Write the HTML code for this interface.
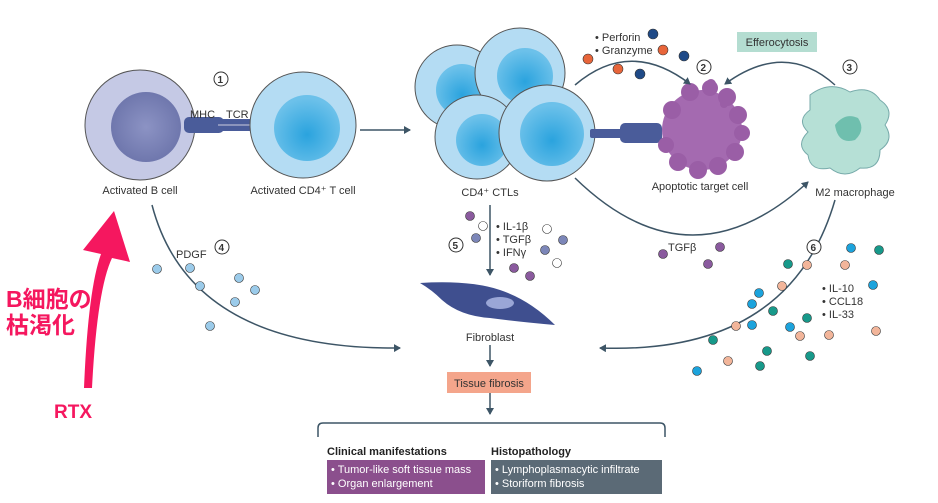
<!DOCTYPE html>
<html><head><meta charset="utf-8"><style>
body{margin:0;background:#fff;width:938px;height:498px;overflow:hidden}
svg text{font-family:"Liberation Sans",sans-serif;fill:#333}
</style></head><body>
<svg width="938" height="498" viewBox="0 0 938 498" xmlns="http://www.w3.org/2000/svg">
<defs>
<marker id="a" markerWidth="8" markerHeight="8" refX="6" refY="4" orient="auto" markerUnits="userSpaceOnUse"><path d="M0,0 L7,4 L0,8 z" fill="#3d5566"/></marker>
<radialGradient id="bc" cx="50%" cy="50%" r="50%"><stop offset="0" stop-color="#8c93c4"/><stop offset="1" stop-color="#6f77ad"/></radialGradient>
<radialGradient id="tc" cx="50%" cy="60%" r="55%"><stop offset="0" stop-color="#2aa3de"/><stop offset="1" stop-color="#6cc1ea"/></radialGradient>
</defs>
<!-- B cell -->
<circle cx="140" cy="125" r="55" fill="#c5c9e5" stroke="#555" stroke-width="1"/>
<circle cx="146" cy="127" r="35" fill="url(#bc)"/>
<!-- MHC-TCR -->
<rect x="184" y="117" width="40" height="16" rx="5" fill="#4a5c9a"/>
<rect x="215" y="119" width="40" height="12" rx="3" fill="#4a5c9a"/>
<line x1="218" y1="125" x2="258" y2="125" stroke="#ccd" stroke-width="1"/>
<text x="190" y="118" font-size="11">MHC</text><text x="226" y="118" font-size="11">TCR</text>
<circle cx="221" cy="79" r="7" fill="#fff" stroke="#333"/><text x="217.5" y="83" font-size="10" font-weight="bold">1</text>
<!-- T cell -->
<circle cx="303" cy="125" r="53" fill="#b4dcf3" stroke="#555"/>
<circle cx="307" cy="128" r="33" fill="url(#tc)"/>
<text x="140" y="194" font-size="11" text-anchor="middle">Activated B cell</text>
<text x="303" y="194" font-size="11" text-anchor="middle">Activated CD4⁺ T cell</text>
<line x1="360" y1="130" x2="410" y2="130" stroke="#3d5566" stroke-width="1.5" marker-end="url(#a)"/>
<!-- CTLs -->
<g stroke="#555" stroke-width="1">
<circle cx="457" cy="87" r="42" fill="#b4dcf3"/><circle cx="462" cy="90" r="26" fill="url(#tc)" stroke="none"/>
<circle cx="520" cy="73" r="45" fill="#b4dcf3"/><circle cx="525" cy="76" r="28" fill="url(#tc)" stroke="none"/>
<circle cx="477" cy="137" r="42" fill="#b4dcf3"/><circle cx="482" cy="140" r="26" fill="url(#tc)" stroke="none"/>
<circle cx="547" cy="133" r="48" fill="#b4dcf3"/><circle cx="552" cy="134" r="32" fill="url(#tc)" stroke="none"/>
</g>
<rect x="590" y="129" width="40" height="9" rx="2" fill="#4a5c9a"/>
<rect x="620" y="123" width="42" height="20" rx="5" fill="#4a5c9a"/>
<text x="490" y="196" font-size="11" text-anchor="middle">CD4⁺ CTLs</text>
<!-- apoptotic -->
<g fill="#9a5ea6">
<circle cx="702" cy="130" r="40" fill="#a46ab0"/>
<circle cx="672" cy="110" r="9"/><circle cx="690" cy="92" r="9"/><circle cx="710" cy="88" r="8"/><circle cx="727" cy="97" r="9"/><circle cx="738" cy="115" r="9"/><circle cx="742" cy="133" r="8"/><circle cx="735" cy="152" r="9"/><circle cx="718" cy="166" r="9"/><circle cx="698" cy="170" r="9"/><circle cx="678" cy="162" r="9"/><circle cx="666" cy="145" r="8"/><circle cx="711" cy="84" r="5"/><circle cx="724" cy="104" r="4"/>
</g>
<text x="700" y="190" font-size="11" text-anchor="middle">Apoptotic target cell</text>
<circle cx="704" cy="67" r="7" fill="#fff" stroke="#333"/><text x="700.5" y="71" font-size="10" font-weight="bold">2</text>
<!-- macrophage -->
<path d="M810,95 Q830,80 850,92 Q870,85 880,100 Q895,110 885,125 Q895,140 880,150 Q880,170 860,168 Q845,180 830,168 Q810,172 808,155 Q795,145 808,132 Q796,120 810,110 Z" fill="#b6e0d6" stroke="#7aa" stroke-width="1"/>
<path d="M835,125 Q845,112 858,118 Q866,130 855,140 Q838,145 835,125Z" fill="#6fbfae"/>
<text x="855" y="196" font-size="11" text-anchor="middle">M2 macrophage</text>
<circle cx="850" cy="67" r="7" fill="#fff" stroke="#333"/><text x="846.5" y="71" font-size="10" font-weight="bold">3</text>
<rect x="737" y="32" width="80" height="20" fill="#b4ddd1"/><text x="777" y="46" font-size="11" text-anchor="middle">Efferocytosis</text>
<!-- arcs -->
<g fill="none" stroke="#3d5566" stroke-width="1.5">
<path d="M575,85 Q630,38 690,84" marker-end="url(#a)"/>
<path d="M835,85 Q785,40 725,84" marker-end="url(#a)"/>
<path d="M575,178 Q690,290 808,182" marker-end="url(#a)"/>
<path d="M835,200 Q790,355 600,348" marker-end="url(#a)"/>
<path d="M152,205 Q190,350 400,348" marker-end="url(#a)"/>
<line x1="490" y1="205" x2="490" y2="275" marker-end="url(#a)"/>
<line x1="490" y1="345" x2="490" y2="366" marker-end="url(#a)"/>
<line x1="490" y1="393" x2="490" y2="414" marker-end="url(#a)"/>
<path d="M318,437 L318,428 Q318,423 323,423 L660,423 Q665,423 665,428 L665,437"/>
</g>
<!-- perforin -->
<text x="595" y="41" font-size="11">• Perforin</text><text x="595" y="54" font-size="11">• Granzyme</text>
<g stroke="#333" stroke-width=".6">
<circle cx="653" cy="34" r="5" fill="#1f4a87"/><circle cx="663" cy="50" r="5" fill="#e8653a"/><circle cx="684" cy="56" r="5" fill="#1f4a87"/>
<circle cx="588" cy="59" r="5" fill="#e8653a"/><circle cx="618" cy="69" r="5" fill="#e8653a"/><circle cx="640" cy="74" r="5" fill="#1f4a87"/>
</g>
<!-- fibroblast area -->
<text x="496" y="230" font-size="11">• IL-1β</text><text x="496" y="243" font-size="11">• TGFβ</text><text x="496" y="256" font-size="11">• IFNγ</text>
<circle cx="456" cy="245" r="7" fill="#fff" stroke="#333"/><text x="452.5" y="249" font-size="10" font-weight="bold">5</text>
<g stroke="#333" stroke-width=".6">
<circle cx="470" cy="216" r="4.5" fill="#8a5a9e"/><circle cx="483" cy="226" r="4.5" fill="#fff"/><circle cx="476" cy="238" r="4.5" fill="#7c86b8"/>
<circle cx="547" cy="229" r="4.5" fill="#fff"/><circle cx="563" cy="240" r="4.5" fill="#7c86b8"/><circle cx="545" cy="250" r="4.5" fill="#7c86b8"/>
<circle cx="557" cy="263" r="4.5" fill="#fff"/><circle cx="514" cy="268" r="4.5" fill="#8a5a9e"/><circle cx="530" cy="276" r="4.5" fill="#8a5a9e"/>
</g>
<path d="M420,283 Q470,280 500,290 Q530,300 555,325 Q520,322 490,318 Q460,316 442,300 Q432,290 420,283Z" fill="#3f4f8f"/>
<ellipse cx="500" cy="303" rx="14" ry="6" fill="#9aa6d6"/>
<text x="490" y="341" font-size="11" text-anchor="middle">Fibroblast</text>
<rect x="447" y="372" width="84" height="21" fill="#f4a58b"/><text x="489" y="387" font-size="11" text-anchor="middle">Tissue fibrosis</text>
<text x="327" y="455" font-size="11" font-weight="bold" style="fill:#222">Clinical manifestations</text>
<text x="491" y="455" font-size="11" font-weight="bold" style="fill:#222">Histopathology</text>
<rect x="327" y="460" width="158" height="34" fill="#8b4f8d"/>
<text x="331" y="473" font-size="11" style="fill:#fff">• Tumor-like soft tissue mass</text><text x="331" y="487" font-size="11" style="fill:#fff">• Organ enlargement</text>
<rect x="491" y="460" width="171" height="34" fill="#5b6a76"/>
<text x="495" y="473" font-size="11" style="fill:#fff">• Lymphoplasmacytic infiltrate</text><text x="495" y="487" font-size="11" style="fill:#fff">• Storiform fibrosis</text>
<!-- PDGF -->
<text x="176" y="258" font-size="11">PDGF</text>
<circle cx="222" cy="247" r="7" fill="#fff" stroke="#333"/><text x="218.5" y="251" font-size="10" font-weight="bold">4</text>
<g stroke="#333" stroke-width=".6" fill="#9bcbea">
<circle cx="157" cy="269" r="4.5"/><circle cx="190" cy="268" r="4.5"/><circle cx="200" cy="286" r="4.5"/><circle cx="239" cy="278" r="4.5"/><circle cx="255" cy="290" r="4.5"/><circle cx="235" cy="302" r="4.5"/><circle cx="210" cy="326" r="4.5"/>
</g>
<!-- M2 cytokines -->
<text x="668" y="251" font-size="11">TGFβ</text>
<circle cx="814" cy="247" r="7" fill="#fff" stroke="#333"/><text x="810.5" y="251" font-size="10" font-weight="bold">6</text>
<text x="822" y="292" font-size="11">• IL-10</text><text x="822" y="305" font-size="11">• CCL18</text><text x="822" y="318" font-size="11">• IL-33</text>
<g stroke="#333" stroke-width=".6">
<g fill="#8a5a9e"><circle cx="663" cy="254" r="4.5"/><circle cx="720" cy="247" r="4.5"/><circle cx="708" cy="264" r="4.5"/></g>
<g fill="#1ca3dc"><circle cx="851" cy="248" r="4.5"/><circle cx="759" cy="293" r="4.5"/><circle cx="752" cy="304" r="4.5"/><circle cx="873" cy="285" r="4.5"/><circle cx="752" cy="325" r="4.5"/><circle cx="790" cy="327" r="4.5"/><circle cx="697" cy="371" r="4.5"/></g>
<g fill="#17998a"><circle cx="879" cy="250" r="4.5"/><circle cx="788" cy="264" r="4.5"/><circle cx="773" cy="311" r="4.5"/><circle cx="807" cy="318" r="4.5"/><circle cx="713" cy="340" r="4.5"/><circle cx="767" cy="351" r="4.5"/><circle cx="760" cy="366" r="4.5"/><circle cx="810" cy="356" r="4.5"/></g>
<g fill="#f2b59a"><circle cx="807" cy="265" r="4.5"/><circle cx="845" cy="265" r="4.5"/><circle cx="782" cy="286" r="4.5"/><circle cx="736" cy="326" r="4.5"/><circle cx="800" cy="336" r="4.5"/><circle cx="829" cy="335" r="4.5"/><circle cx="876" cy="331" r="4.5"/><circle cx="728" cy="361" r="4.5"/></g>
</g>
<!-- RTX arrow -->
<path d="M84,388 L92,388 Q97,290 112,258 L130,262 L114,211 L83,250 L101,254 Q88,290 84,388Z" fill="#f5175f"/>
<text x="6" y="307" font-size="23" font-weight="bold" style="fill:#f5175f;font-family:'Liberation Sans','Noto Sans CJK JP',sans-serif">B細胞の</text>
<text x="6" y="333" font-size="23" font-weight="bold" style="fill:#f5175f;font-family:'Liberation Sans','Noto Sans CJK JP',sans-serif">枯渇化</text>
<text x="54" y="418" font-size="19" font-weight="bold" style="fill:#f5175f">RTX</text>
</svg>
</body></html>
